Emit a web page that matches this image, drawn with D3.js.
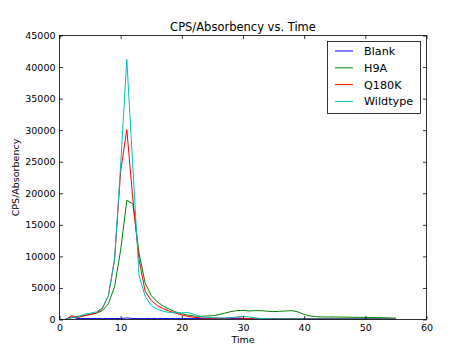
<!DOCTYPE html>
<html>
<head>
<meta charset="utf-8">
<script src="https://cdn.jsdelivr.net/npm/d3@7"></script>
<style>
  html, body { margin: 0; padding: 0; background: #fff; }
  svg { display: block; }
  text { font-family: "DejaVu Sans", sans-serif; fill: #000; }
</style>
</head>
<body>
<svg id="chart" width="474" height="355"></svg>
<script>
// ---- data ----
const time = d3.range(1, 56);
const seriesNames = ["Blank", "H9A", "Q180K", "Wildtype"];
const seriesColors = ["#0000ff", "#008000", "#ff0000", "#00bfbf"];

const blank = [0, 400, 150, 140, 160, 150, 140, 150, 160, 150, 250, 160, 140, 150, 150, 140, 160, 150, 140, 150,
  150, 140, 150, 160, 150, 140, 150, 150, 160, 150, 140, 150, 150, 140, 160, 150, 140, 150, 150, 140,
  150, 150, 140, 150, 150, 140, 150, 150, 140, 150, 150, 140, 150, 140, 150];
const h9a = [100, 300, 500, 600, 800, 1000, 1400, 2500, 5200, 11000, 18900, 18300, 10500, 5800, 3800, 2800, 2100, 1600, 1200, 900,
  700, 550, 500, 550, 600, 750, 1000, 1250, 1400, 1450, 1350, 1400, 1400, 1300, 1250, 1300, 1350, 1400, 1200, 800,
  550, 450, 400, 400, 400, 380, 380, 350, 350, 330, 320, 300, 280, 250, 220];
const q180k = [0, 600, 300, 600, 800, 1000, 1700, 3800, 9500, 23500, 30100, 19000, 9500, 4500, 3000, 2200, 1700, 1300, 1000, 700,
  500, 350, 250, 200, 200, 200, 200, 250, 250, 200, 150, 100, 100, 100, 100, 100, 100, 100, 100, 100,
  100, 100, 100, 100, 100, 100, 100, 100, 100, 100, 100, 100, 100, 100, 100];
const wildtype = [0, 300, 400, 800, 1000, 1200, 1800, 3800, 9500, 24500, 41200, 24000, 7000, 3700, 2200, 1600, 1300, 1100, 1050, 1050,
  1100, 800, 500, 350, 300, 250, 250, 300, 400, 500, 400, 250, 150, 120, 100, 100, 100, 100, 100, 100,
  80, 80, 80, 80, 80, 80, 80, 80, 80, 80, 80, 80, 80, 80, 80];
const allSeries = [blank, h9a, q180k, wildtype];

const xTicks = [0, 10, 20, 30, 40, 50, 60];
const yTicks = [0, 5000, 10000, 15000, 20000, 25000, 30000, 35000, 40000, 45000];

// ---- layout ----
const mLeft = 59.5, mRight = 426.5, mTop = 35.5, mBottom = 319.5;

const svg = d3.select("#chart");
const x = d3.scaleLinear().domain([0, 60]).range([mLeft, mRight]);
const y = d3.scaleLinear().domain([0, 45000]).range([mBottom, mTop]);

// clip
svg.append("defs").append("clipPath").attr("id", "clip")
  .append("rect").attr("x", mLeft).attr("y", mTop).attr("width", mRight - mLeft).attr("height", mBottom - mTop);

// lines
const line = d3.line().x((d, i) => x(time[i])).y(d => y(d));
const g = svg.append("g").attr("clip-path", "url(#clip)");
allSeries.forEach((s, k) => {
  g.append("path").datum(s)
    .attr("d", line)
    .attr("fill", "none")
    .attr("stroke", seriesColors[k])
    .attr("stroke-width", 1)
    .attr("stroke-linejoin", "round");
});

// axes (ticks inward)
const tickLen = 3.5;
const fmt = d3.format("d");
const axB = svg.append("g").attr("transform", `translate(0,${mBottom})`)
  .call(d3.axisBottom(x).tickValues(xTicks).tickFormat(fmt).tickSizeInner(-tickLen).tickSizeOuter(0).tickPadding(5));
const axT = svg.append("g").attr("transform", `translate(0,${mTop})`)
  .call(d3.axisTop(x).tickValues(xTicks).tickFormat("").tickSizeInner(-tickLen).tickSizeOuter(0));
const axL = svg.append("g").attr("transform", `translate(${mLeft},0)`)
  .call(d3.axisLeft(y).tickValues(yTicks).tickFormat(fmt).tickSizeInner(-tickLen).tickSizeOuter(0).tickPadding(5));
const axR = svg.append("g").attr("transform", `translate(${mRight},0)`)
  .call(d3.axisRight(y).tickValues(yTicks).tickFormat("").tickSizeInner(-tickLen).tickSizeOuter(0));
[axB, axT, axL, axR].forEach(a => {
  a.select(".domain").remove();
  a.selectAll(".tick line").attr("stroke", "#000").attr("stroke-width", 0.8);
  a.selectAll("text").attr("font-family", "DejaVu Sans").attr("font-size", 9.5).attr("fill", "#000");
});
axL.selectAll(".tick text").attr("x", -4);

// frame
svg.append("rect").attr("x", mLeft).attr("y", mTop).attr("width", mRight - mLeft).attr("height", mBottom - mTop)
  .attr("fill", "none").attr("stroke", "#000").attr("stroke-width", 0.8);

// title and labels
svg.append("text").attr("x", (mLeft + mRight) / 2).attr("y", 31).attr("text-anchor", "middle")
  .attr("font-size", 11.5).text("CPS/Absorbency vs. Time");
svg.append("text").attr("x", (mLeft + mRight) / 2).attr("y", 343).attr("text-anchor", "middle")
  .attr("font-size", 9.5).text("Time");
svg.append("text").attr("transform", `translate(19,${(mTop + mBottom) / 2}) rotate(-90)`)
  .attr("text-anchor", "middle").attr("font-size", 9.5).text("CPS/Absorbency");

// legend
const lg = svg.append("g");
lg.append("rect").attr("x", 327.5).attr("y", 41.5).attr("width", 93).attr("height", 72)
  .attr("fill", "#fff").attr("stroke", "#000").attr("stroke-width", 0.8);
seriesNames.forEach((name, k) => {
  const yy = 51 + k * 16.8;
  lg.append("line").attr("x1", 335).attr("x2", 353).attr("y1", yy).attr("y2", yy)
    .attr("stroke", seriesColors[k]).attr("stroke-width", 1);
  lg.append("text").attr("x", 364).attr("y", yy).attr("dy", "0.36em")
    .attr("font-size", 11.2).text(name);
});
</script>
</body>
</html>
